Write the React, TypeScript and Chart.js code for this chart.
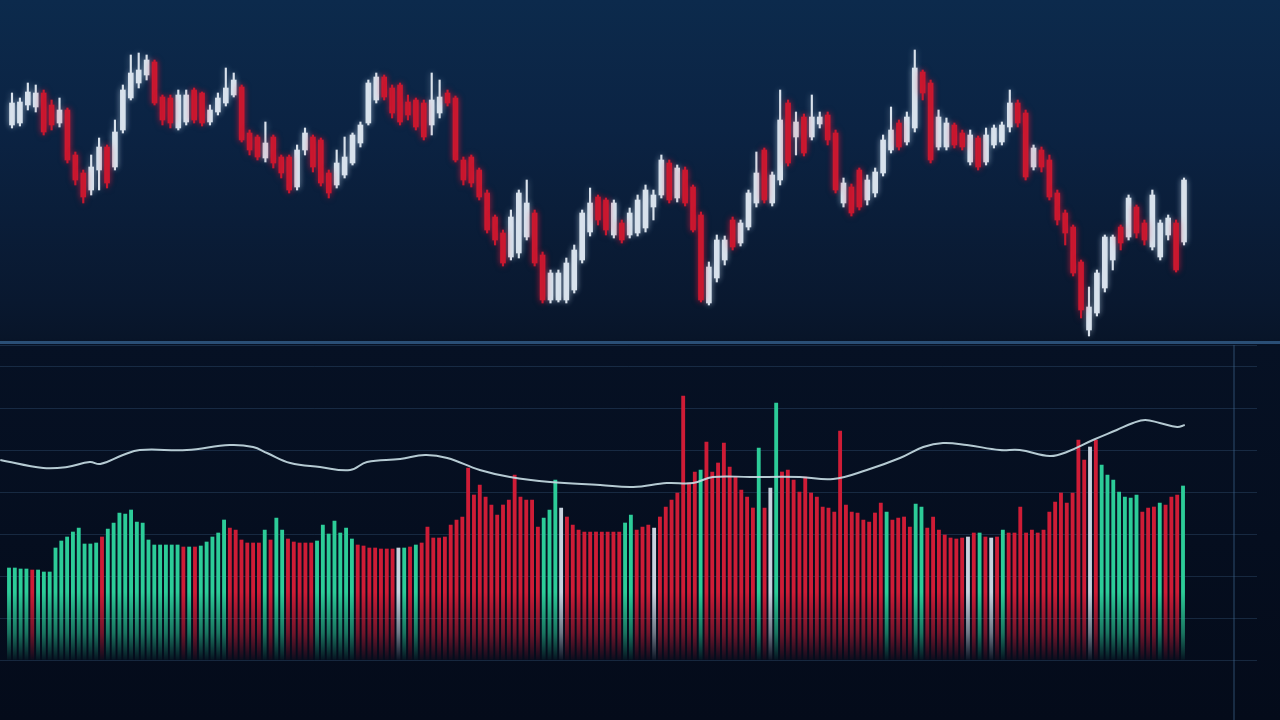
import React, { useEffect, useRef } from "react";
import { Chart, registerables } from "chart.js";

Chart.register(...registerables);

// ---------- Price candles (149 sessions) ----------
const candleOpen = [
  275, 277, 295, 293, 307, 295, 277, 290, 245, 227,
  210, 230, 253, 233, 270, 302, 317, 325, 338, 303,
  302, 272, 278, 310, 307, 278, 288, 297, 305, 313,
  267, 263, 242, 263, 243, 243, 213, 250, 263, 260,
  227, 215, 225, 237, 257, 277, 300, 323, 312, 315,
  298, 300, 297, 275, 287, 307, 302, 240, 243, 230,
  207, 183, 167, 143, 147, 163, 187, 145, 100, 100,
  100, 110, 140, 168, 203, 200, 165, 177, 165, 167,
  172, 193, 205, 237, 202, 230, 213, 185, 97, 122,
  140, 180, 157, 173, 197, 250, 197, 220, 297, 263,
  283, 263, 276, 285, 267, 197, 213, 230, 200, 207,
  227, 250, 277, 258, 272, 328, 317, 253, 253, 275,
  267, 238, 262, 238, 255, 258, 273, 297, 287, 233,
  250, 240, 207, 187, 173, 138, 70, 87, 112, 140,
  173, 163, 193, 177, 153, 143, 165, 177, 158,
];
const candleHigh = [
  307, 302, 317, 315, 310, 300, 302, 292, 248, 230,
  245, 262, 255, 280, 315, 345, 347, 345, 340, 305,
  305, 310, 310, 312, 308, 295, 307, 332, 327, 315,
  270, 265, 278, 265, 245, 245, 255, 272, 265, 262,
  230, 250, 263, 267, 278, 320, 327, 325, 315, 317,
  305, 302, 300, 327, 320, 310, 304, 243, 245, 232,
  210, 185, 170, 190, 210, 220, 190, 148, 130, 130,
  142, 155, 190, 212, 205, 202, 200, 180, 192, 205,
  215, 210, 245, 240, 235, 233, 215, 188, 138, 165,
  164, 183, 180, 210, 248, 252, 228, 310, 300, 288,
  286, 305, 288, 288, 270, 222, 216, 232, 225, 232,
  265, 293, 280, 288, 350, 330, 320, 290, 282, 277,
  270, 270, 264, 272, 275, 278, 310, 300, 290, 255,
  253, 245, 210, 190, 175, 140, 113, 130, 165, 165,
  175, 205, 195, 180, 210, 180, 185, 180, 222,
];
const candleLow = [
  272, 274, 290, 288, 265, 270, 273, 237, 215, 197,
  205, 210, 212, 230, 267, 300, 312, 320, 295, 275,
  272, 270, 275, 277, 274, 275, 285, 294, 303, 258,
  245, 240, 238, 232, 222, 207, 210, 245, 228, 214,
  202, 212, 222, 235, 253, 275, 297, 300, 282, 275,
  280, 270, 260, 265, 282, 294, 238, 215, 213, 200,
  167, 155, 134, 140, 142, 160, 134, 97, 97, 98,
  97, 107, 137, 164, 175, 165, 162, 157, 162, 164,
  168, 180, 202, 197, 198, 194, 168, 98, 95, 118,
  135, 150, 154, 170, 193, 197, 194, 215, 234, 245,
  244, 260, 272, 255, 207, 193, 184, 190, 195, 203,
  224, 247, 250, 255, 268, 300, 237, 250, 250, 252,
  250, 235, 230, 235, 252, 255, 268, 273, 220, 230,
  228, 200, 175, 155, 124, 82, 64, 84, 108, 130,
  150, 160, 162, 155, 150, 140, 160, 128, 155,
];
const candleClose = [
  297, 298, 308, 307, 268, 275, 290, 240, 220, 203,
  233, 253, 217, 268, 310, 327, 330, 340, 297, 280,
  277, 305, 305, 280, 277, 290, 302, 312, 320, 260,
  250, 243, 257, 237, 227, 210, 250, 267, 233, 217,
  207, 237, 243, 265, 275, 317, 323, 303, 287, 278,
  285, 273, 263, 300, 303, 297, 240, 220, 217, 203,
  170, 160, 137, 183, 207, 197, 137, 100, 127, 127,
  137, 150, 187, 197, 180, 170, 197, 160, 187, 200,
  210, 205, 240, 200, 232, 197, 170, 100, 133, 160,
  160, 153, 177, 207, 227, 200, 225, 280, 237, 278,
  247, 283, 283, 260, 210, 217, 187, 193, 220, 228,
  260, 270, 253, 283, 332, 307, 240, 283, 277, 255,
  253, 265, 233, 265, 272, 275, 297, 277, 223, 252,
  233, 203, 180, 167, 127, 90, 93, 127, 163, 163,
  157, 202, 167, 160, 205, 177, 182, 130, 220,
];

// ---------- Volume (203 bars) ----------
const volumeValues = [
  92, 92, 91, 91, 90, 90, 88, 88, 112, 119,
  123, 128, 132, 116, 116, 117, 123, 131, 137, 147,
  146, 150, 138, 137, 120, 115, 115, 115, 115, 115,
  113, 113, 113, 114, 118, 123, 127, 140, 132, 130,
  120, 117, 117, 117, 130, 120, 142, 130, 121, 118,
  117, 117, 117, 119, 135, 126, 139, 127, 132, 121,
  115, 114, 112, 112,
  111, 111, 111, 112, 112, 113, 115, 117, 133, 122,
  122, 123, 135, 140, 143, 192, 165, 175, 163, 155,
  145, 155, 160, 185, 163, 160, 160, 133, 142, 150,
  180, 152, 143, 135, 130, 128, 128, 128, 128, 128,
  128, 128, 137, 145, 130, 133, 135, 132, 143, 153,
  160, 167, 264, 177, 188, 190, 218, 188, 197, 217,
  193, 183, 170, 163, 152, 212, 152, 172, 257, 188,
  190,
  180, 168, 183, 167, 163, 153, 152, 148, 229, 155,
  148, 147, 140, 138, 147, 157, 148, 140, 142, 143,
  133, 156, 153, 132, 143, 130, 125, 122, 121, 122,
  123, 127, 127, 123, 122, 123, 130, 127, 127, 153,
  127, 130, 127, 130, 148, 158, 167, 157, 167, 220,
  200, 213, 220, 195, 185, 180, 168, 163, 162, 165,
  148, 152, 153, 157, 155, 163, 165, 174,
];
// u = up (teal), d = down (red), n = neutral (pale)
const volumeSides = [
  "u", "u", "u", "u", "d", "u", "u", "u", "u", "u",
  "u", "u", "u", "u", "u", "u", "d", "u", "u", "u",
  "u", "u", "u", "u", "u", "u", "u", "u", "u", "u",
  "d", "u", "d", "u", "u", "u", "u", "u", "d", "d",
  "d", "d", "d", "d", "u", "d", "u", "u", "d", "d",
  "d", "d", "d", "u", "u", "u", "u", "u", "u", "u",
  "d", "d", "d", "d",
  "d", "d", "d", "n", "u", "d", "u", "d", "d", "d",
  "d", "d", "d", "d", "d", "d", "d", "d", "d", "d",
  "d", "d", "d", "d", "d", "d", "d", "d", "u", "u",
  "u", "n", "d", "d", "d", "d", "d", "d", "d", "d",
  "d", "d", "u", "u", "d", "d", "d", "n", "d", "d",
  "d", "d", "d", "d", "d", "u", "d", "d", "d", "d",
  "d", "d", "d", "d", "d", "u", "d", "n", "u", "d",
  "d",
  "d", "d", "d", "d", "d", "d", "d", "d", "d", "d",
  "d", "d", "d", "d", "d", "d", "u", "d", "d", "d",
  "d", "u", "u", "d", "d", "d", "d", "d", "d", "d",
  "n", "d", "u", "d", "n", "d", "u", "d", "d", "d",
  "d", "d", "d", "d", "d", "d", "d", "d", "d", "d",
  "d", "n", "d", "u", "u", "u", "u", "u", "u", "u",
  "d", "d", "d", "u", "d", "d", "d", "u",
];

// ---------- Volume moving average (sampled) ----------
const maIndex = [
  -1.5, 5.9, 10.0, 13.9, 15.7, 19.6, 22.5, 30.6, 38.0, 42.0,
  44.4, 48.4, 53.5, 58.7, 61.6, 67.3, 71.6, 75.4, 81.0, 86.2,
  93.1, 101.7, 107.4, 113.2, 117.7, 121.1, 127.5, 136.1, 141.8, 147.6,
  153.3, 157.3, 160.7, 164.8, 170.5, 173.9, 179.1, 182.0, 186.5, 190.6,
  193.4, 195.5, 198.0, 201.0, 202.3,
];
const maValues = [
  200, 192, 193, 198, 196, 205, 210, 210, 215, 213,
  207, 197, 193, 190, 198, 201, 205, 202, 190, 183,
  178, 175, 173, 177, 177, 183, 183, 183, 181, 190,
  202, 213, 217, 215, 210, 210, 204, 208, 220, 230,
  237, 240, 237, 233, 235,
];

const CANDLE_UP = "#d9e2ec";
const CANDLE_DOWN = "#c8182f";
const SIDE_RGB: Record<string, string> = {
  u: "44, 204, 152",
  d: "206, 28, 54",
  n: "200, 210, 222",
};

function fadeFill(chart: any, rgb: string) {
  const area = chart.chartArea;
  if (!area) return `rgb(${rgb})`;
  const g = chart.ctx.createLinearGradient(0, area.bottom - 68, 0, area.bottom);
  g.addColorStop(0, `rgba(${rgb},1)`);
  g.addColorStop(0.6, `rgba(${rgb},0.55)`);
  g.addColorStop(1, `rgba(${rgb},0.04)`);
  return g;
}

function fixedRange(min: number, max: number) {
  return (scale: any) => {
    scale.min = min;
    scale.max = max;
  };
}

// soft glow around candles (per dataset shadow colour)
const glowPlugin = {
  id: "candleGlow",
  beforeDatasetDraw(chart: any, args: any) {
    const ds = chart.data.datasets[args.index];
    if (!ds.glow) return;
    chart.ctx.save();
    chart.ctx.shadowColor = ds.glow;
    chart.ctx.shadowBlur = 6;
  },
  afterDatasetDraw(chart: any, args: any) {
    const ds = chart.data.datasets[args.index];
    if (!ds.glow) return;
    chart.ctx.restore();
  },
};

export default function App() {
  const priceRef = useRef<HTMLCanvasElement | null>(null);
  const volRef = useRef<HTMLCanvasElement | null>(null);

  useEffect(() => {
    const isUp = candleOpen.map((o, i) => candleClose[i] >= o);
    const pick = (up: boolean, body: boolean) =>
      candleOpen
        .map((o, i) => ({
          x: i,
          y: body ? [o, candleClose[i]] : [candleLow[i], candleHigh[i]],
          keep: isUp[i] === up,
        }))
        .filter((p) => p.keep)
        .map((p) => ({ x: p.x, y: p.y }));

    const candleSet = (label: string, up: boolean, body: boolean) =>
      ({
        label,
        data: pick(up, body) as any,
        backgroundColor: up ? CANDLE_UP : CANDLE_DOWN,
        barThickness: body ? 5 : 1.5,
        grouped: false,
        borderWidth: 0,
        glow: up ? "rgba(200, 220, 240, 0.45)" : "rgba(230, 30, 60, 0.55)",
      } as any);

    const priceChart = new Chart(priceRef.current as HTMLCanvasElement, {
      type: "bar",
      data: {
        datasets: [
          candleSet("down wick", false, false),
          candleSet("down body", false, true),
          candleSet("up wick", true, false),
          candleSet("up body", true, true),
        ],
      },
      options: {
        animation: false,
        responsive: false,
        devicePixelRatio: 1,
        layout: { padding: 0 },
        plugins: { legend: { display: false }, tooltip: { enabled: false } },
        scales: {
          x: {
            type: "linear",
            min: -1.515,
            max: 160.12,
            offset: false,
            bounds: "data",
            grace: 0,
            display: false,
            afterBuildTicks: fixedRange(-1.515, 160.12),
          } as any,
          y: { min: 60, max: 400, display: false, afterBuildTicks: fixedRange(60, 400) } as any,
        },
      },
      plugins: [glowPlugin],
    });

    const volChart = new Chart(volRef.current as HTMLCanvasElement, {
      type: "bar",
      data: {
        datasets: [
          {
            type: "line",
            label: "Volume MA",
            data: maIndex.map((x, i) => ({ x, y: maValues[i] })) as any,
            borderColor: "rgba(196, 218, 226, 0.92)",
            borderWidth: 2,
            pointRadius: 0,
            tension: 0.4,
            fill: false,
            order: 0,
          } as any,
          {
            type: "bar",
            label: "Volume",
            data: volumeValues.map((v, i) => ({ x: i, y: v })) as any,
            backgroundColor: (ctx: any) => fadeFill(ctx.chart, SIDE_RGB[volumeSides[ctx.dataIndex]] || SIDE_RGB.d),
            barThickness: 3.2,
            borderWidth: 0,
            order: 1,
          } as any,
        ],
      },
      options: {
        animation: false,
        responsive: false,
        devicePixelRatio: 1,
        layout: { padding: { left: 0, right: 23, top: 0, bottom: 60 } },
        plugins: { legend: { display: false }, tooltip: { enabled: false } },
        scales: {
          x: {
            type: "linear",
            min: -1.549,
            max: 214.73,
            offset: false,
            bounds: "data",
            grace: 0,
            display: false,
            afterBuildTicks: fixedRange(-1.549, 214.73),
          } as any,
          y: {
            min: 0,
            max: 315,
            display: true,
            border: { display: false },
            ticks: { display: false, stepSize: 41.9 },
            grid: { color: "rgba(62, 98, 138, 0.32)", lineWidth: 1, drawTicks: false },
          },
        },
      },
    });

    return () => {
      priceChart.destroy();
      volChart.destroy();
    };
  }, []);

  return (
    <div
      style={{
        position: "fixed",
        inset: 0,
        width: 1280,
        height: 720,
        overflow: "hidden",
        background:
          "linear-gradient(180deg, #0c2a4c 0%, #0b2343 18%, #09182f 42%, #081529 47%, #061124 48%, #050e1f 75%, #040b1a 100%)",
      }}
    >
      <canvas
        ref={priceRef}
        width={1280}
        height={340}
        style={{ position: "absolute", left: 0, top: 0, display: "block" }}
      />
      <div
        style={{
          position: "absolute",
          left: 0,
          top: 341,
          width: 1280,
          height: 3,
          background: "rgba(44, 82, 122, 0.95)",
        }}
      />
      <div
        style={{
          position: "absolute",
          left: 1233,
          top: 345,
          width: 2,
          height: 375,
          background: "rgba(48, 82, 118, 0.45)",
        }}
      />
      <canvas
        ref={volRef}
        width={1280}
        height={375}
        style={{ position: "absolute", left: 0, top: 345, display: "block" }}
      />
    </div>
  );
}
